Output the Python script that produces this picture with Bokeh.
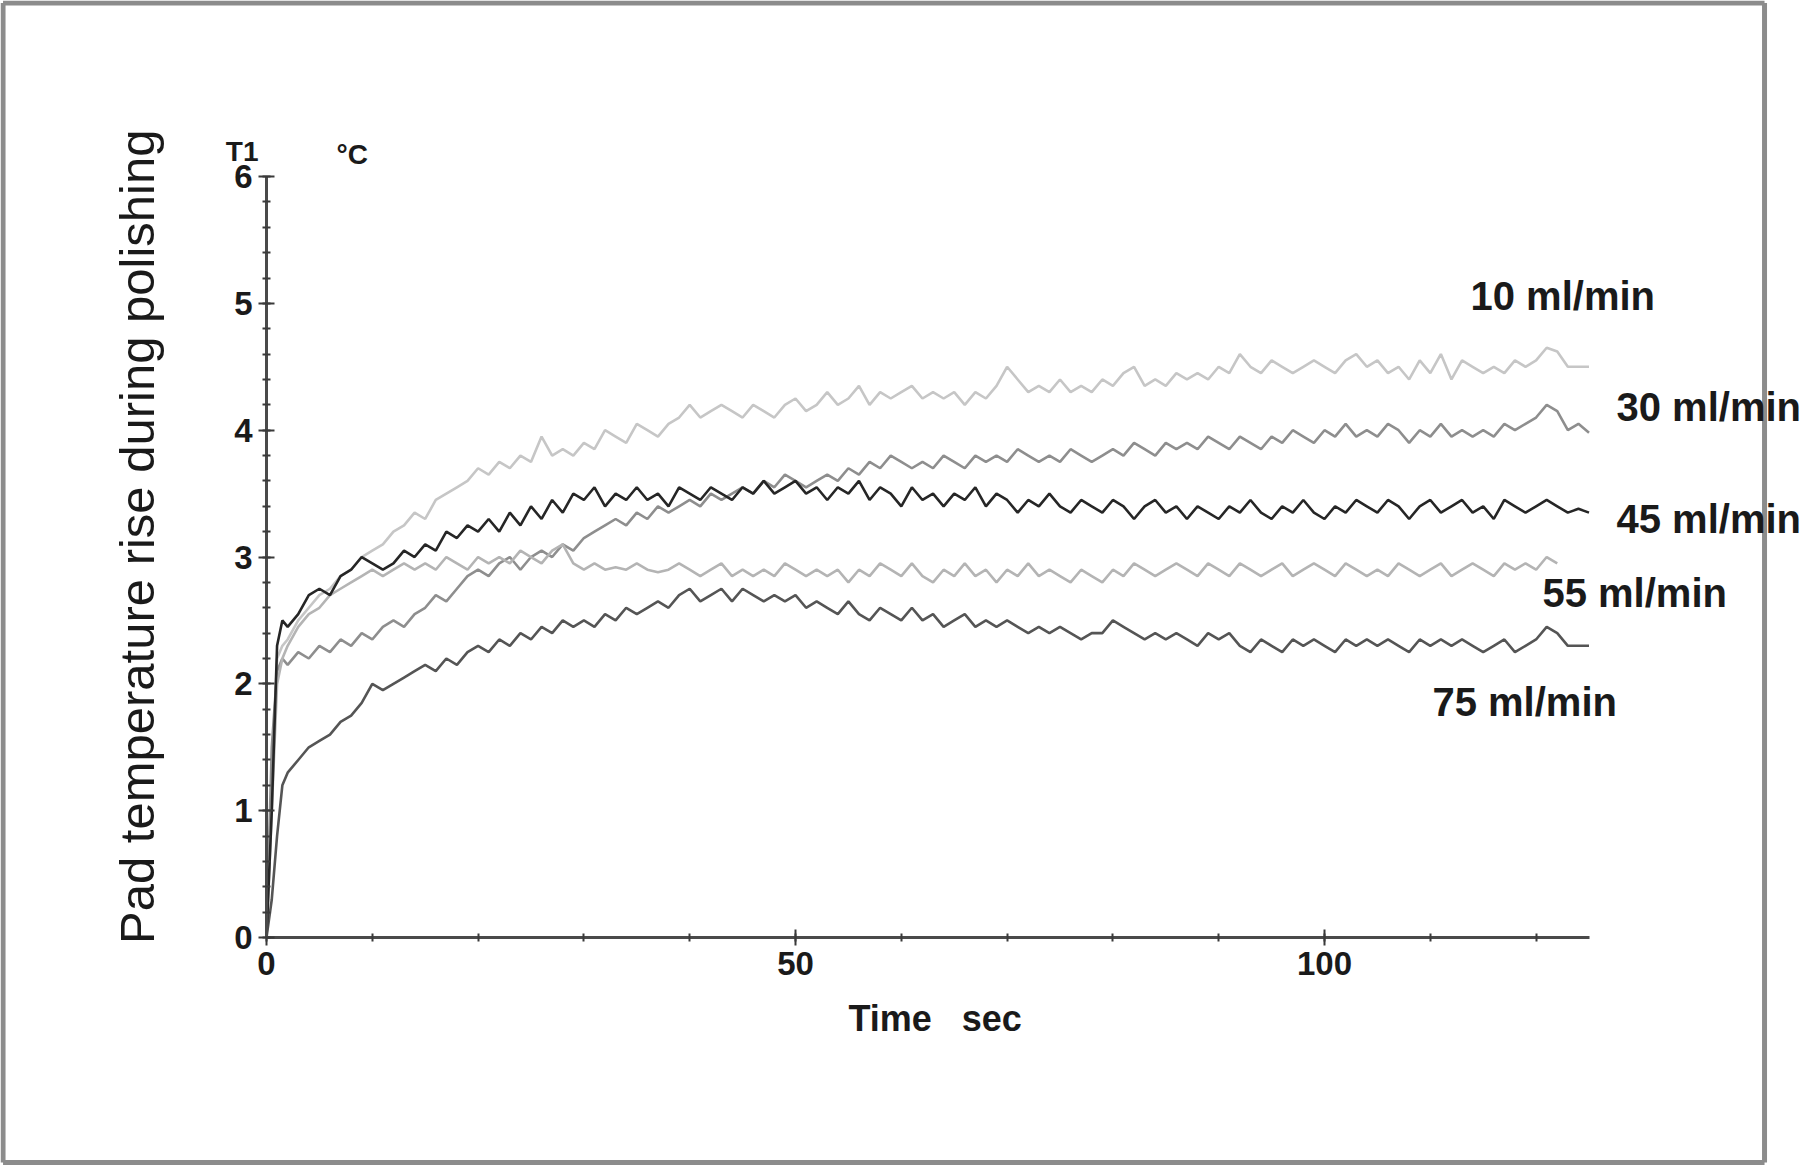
from bokeh.plotting import figure
from bokeh.models import Range1d, SingleIntervalTicker
from bokeh.core.properties import value
from bokeh.embed import file_html
from bokeh.resources import INLINE
import math

# ---------------- data ----------------
TIME = [0, 0.5, 1, 1.5] + list(range(2, 126))
TIME_55 = TIME[:125]          # 55 ml/min trace stops at ~122 s

S10 = [0, 1.2, 2.2, 2.3,
       2.35, 2.5, 2.6, 2.7, 2.75, 2.85, 2.9, 3.0, 3.05,
       3.1, 3.2, 3.25, 3.35, 3.3, 3.45, 3.5, 3.55, 3.6, 3.7,
       3.65, 3.75, 3.7, 3.8, 3.75, 3.95, 3.8, 3.85, 3.8, 3.9,
       3.85, 4.0, 3.95, 3.9, 4.05, 4.0, 3.95, 4.05, 4.1, 4.2,
       4.1, 4.15, 4.2, 4.15, 4.1, 4.2, 4.15, 4.1, 4.2, 4.25,
       4.15, 4.2, 4.3, 4.2, 4.25, 4.35, 4.2, 4.3, 4.25, 4.3,
       4.35, 4.25, 4.3, 4.25, 4.3, 4.2, 4.3, 4.25, 4.35, 4.5,
       4.4, 4.3, 4.35, 4.3, 4.4, 4.3, 4.35, 4.3, 4.4, 4.35,
       4.45, 4.5, 4.35, 4.4, 4.35, 4.45, 4.4, 4.45, 4.4, 4.5,
       4.45, 4.6, 4.5, 4.45, 4.55, 4.5, 4.45, 4.5, 4.55, 4.5,
       4.45, 4.55, 4.6, 4.5, 4.55, 4.45, 4.5, 4.4, 4.55, 4.45,
       4.6, 4.4, 4.55, 4.5, 4.45, 4.5, 4.45, 4.55, 4.5, 4.55,
       4.65, 4.62, 4.5, 4.5, 4.5]

S30 = [0, 1.5, 2.1, 2.2,
       2.15, 2.25, 2.2, 2.3, 2.25, 2.35, 2.3, 2.4, 2.35,
       2.45, 2.5, 2.45, 2.55, 2.6, 2.7, 2.65, 2.75, 2.85, 2.9,
       2.85, 2.95, 3.0, 2.9, 3.0, 3.05, 3.0, 3.1, 3.05, 3.15,
       3.2, 3.25, 3.3, 3.25, 3.35, 3.3, 3.4, 3.35, 3.4, 3.45,
       3.4, 3.5, 3.45, 3.5, 3.55, 3.5, 3.6, 3.55, 3.65, 3.6,
       3.55, 3.6, 3.65, 3.6, 3.7, 3.65, 3.75, 3.7, 3.8, 3.75,
       3.7, 3.75, 3.7, 3.8, 3.75, 3.7, 3.8, 3.75, 3.8, 3.75,
       3.85, 3.8, 3.75, 3.8, 3.75, 3.85, 3.8, 3.75, 3.8, 3.85,
       3.8, 3.9, 3.85, 3.8, 3.9, 3.85, 3.9, 3.85, 3.95, 3.9,
       3.85, 3.95, 3.9, 3.85, 3.95, 3.9, 4.0, 3.95, 3.9, 4.0,
       3.95, 4.05, 3.95, 4.0, 3.95, 4.05, 4.0, 3.9, 4.0, 3.95,
       4.05, 3.95, 4.0, 3.95, 4.0, 3.95, 4.05, 4.0, 4.05, 4.1,
       4.2, 4.15, 4.0, 4.05, 3.98]

S45 = [0, 1.0, 2.3, 2.5,
       2.45, 2.55, 2.7, 2.75, 2.7, 2.85, 2.9, 3.0, 2.95,
       2.9, 2.95, 3.05, 3.0, 3.1, 3.05, 3.2, 3.15, 3.25, 3.2,
       3.3, 3.2, 3.35, 3.25, 3.4, 3.3, 3.45, 3.35, 3.5, 3.45,
       3.55, 3.4, 3.5, 3.45, 3.55, 3.45, 3.5, 3.4, 3.55, 3.5,
       3.45, 3.55, 3.5, 3.45, 3.55, 3.5, 3.6, 3.5, 3.55, 3.6,
       3.5, 3.55, 3.45, 3.55, 3.5, 3.6, 3.45, 3.55, 3.5, 3.4,
       3.55, 3.45, 3.5, 3.4, 3.5, 3.45, 3.55, 3.4, 3.5, 3.45,
       3.35, 3.45, 3.4, 3.5, 3.4, 3.35, 3.45, 3.4, 3.35, 3.45,
       3.4, 3.3, 3.4, 3.45, 3.35, 3.4, 3.3, 3.4, 3.35, 3.3,
       3.4, 3.35, 3.45, 3.35, 3.3, 3.4, 3.35, 3.45, 3.35, 3.3,
       3.4, 3.35, 3.45, 3.4, 3.35, 3.45, 3.4, 3.3, 3.4, 3.45,
       3.35, 3.4, 3.45, 3.35, 3.4, 3.3, 3.45, 3.4, 3.35, 3.4,
       3.45, 3.4, 3.35, 3.38, 3.35]

S55 = [0, 1.0, 2.0, 2.2,
       2.3, 2.45, 2.55, 2.6, 2.7, 2.75, 2.8, 2.85, 2.9,
       2.85, 2.9, 2.95, 2.9, 2.95, 2.9, 3.0, 2.95, 2.9, 3.0,
       2.95, 3.0, 2.95, 3.05, 3.0, 2.95, 3.05, 3.1, 2.95, 2.9,
       2.95, 2.9, 2.92, 2.9, 2.95, 2.9, 2.88, 2.9, 2.95, 2.9,
       2.85, 2.9, 2.95, 2.85, 2.9, 2.85, 2.9, 2.85, 2.95, 2.9,
       2.85, 2.9, 2.85, 2.9, 2.8, 2.9, 2.85, 2.95, 2.9, 2.85,
       2.95, 2.85, 2.8, 2.9, 2.85, 2.95, 2.85, 2.9, 2.8, 2.9,
       2.85, 2.95, 2.85, 2.9, 2.85, 2.8, 2.9, 2.85, 2.8, 2.9,
       2.85, 2.95, 2.9, 2.85, 2.9, 2.95, 2.9, 2.85, 2.95, 2.9,
       2.85, 2.95, 2.9, 2.85, 2.9, 2.95, 2.85, 2.9, 2.95, 2.9,
       2.85, 2.95, 2.9, 2.85, 2.9, 2.85, 2.95, 2.9, 2.85, 2.9,
       2.95, 2.85, 2.9, 2.95, 2.9, 2.85, 2.95, 2.9, 2.95, 2.9,
       3.0, 2.95]

S75 = [0, 0.3, 0.8, 1.2,
       1.3, 1.4, 1.5, 1.55, 1.6, 1.7, 1.75, 1.85, 2.0,
       1.95, 2.0, 2.05, 2.1, 2.15, 2.1, 2.2, 2.15, 2.25, 2.3,
       2.25, 2.35, 2.3, 2.4, 2.35, 2.45, 2.4, 2.5, 2.45, 2.5,
       2.45, 2.55, 2.5, 2.6, 2.55, 2.6, 2.65, 2.6, 2.7, 2.75,
       2.65, 2.7, 2.75, 2.65, 2.75, 2.7, 2.65, 2.7, 2.65, 2.7,
       2.6, 2.65, 2.6, 2.55, 2.65, 2.55, 2.5, 2.6, 2.55, 2.5,
       2.6, 2.5, 2.55, 2.45, 2.5, 2.55, 2.45, 2.5, 2.45, 2.5,
       2.45, 2.4, 2.45, 2.4, 2.45, 2.4, 2.35, 2.4, 2.4, 2.5,
       2.45, 2.4, 2.35, 2.4, 2.35, 2.4, 2.35, 2.3, 2.4, 2.35,
       2.4, 2.3, 2.25, 2.35, 2.3, 2.25, 2.35, 2.3, 2.35, 2.3,
       2.25, 2.35, 2.3, 2.35, 2.3, 2.35, 2.3, 2.25, 2.35, 2.3,
       2.35, 2.3, 2.35, 2.3, 2.25, 2.3, 2.35, 2.25, 2.3, 2.35,
       2.45, 2.4, 2.3, 2.3, 2.3]

SERIES_NAMES = ["10 ml/min", "30 ml/min", "45 ml/min", "55 ml/min", "75 ml/min"]
LABEL_X = [113.8, 127.6, 127.6, 120.6, 110.2]
LABEL_Y = [5.06, 4.18, 3.30, 2.72, 1.86]

X_TICK_STEP = 50
Y_TICK_STEP = 1
X_LABEL = "Time\u00a0\u00a0\u00a0sec"
Y_LABEL = "Pad temperature rise during polishing"
Y_UNIT_NAME = "T1"
Y_UNIT = "°C"

# ---------------- figure ----------------
FONT = "Liberation Sans"
W, H = 1800, 1168
X0, X1 = -25.14, 144.99
Y0, Y1 = -1.821, 7.388

p = figure(width=W, height=H, output_backend="svg", toolbar_location=None,
           x_range=Range1d(X0, X1), y_range=Range1d(Y0, Y1),
           min_border_left=0, min_border_bottom=0,
           min_border_top=0, min_border_right=0)
p.title.visible = False
p.xgrid.visible = False
p.ygrid.visible = False
p.outline_line_color = None
p.background_fill_color = "white"
p.border_fill_color = "white"

for ax in (p.xaxis[0], p.yaxis[0]):
    ax.fixed_location = 0
    ax.axis_line_color = "#4a4a4a"
    ax.axis_line_width = 3
    ax.major_tick_line_color = "#3a3a3a"
    ax.major_tick_line_width = 2
    ax.minor_tick_line_color = "#3a3a3a"
    ax.minor_tick_line_width = 2
    ax.major_tick_in = 8
    ax.major_tick_out = 8
    ax.minor_tick_in = 4
    ax.minor_tick_out = 4
    ax.major_label_text_font = FONT
    ax.major_label_text_font_style = "bold"
    ax.major_label_text_font_size = "33px"
    ax.major_label_text_color = "#1a1a1a"
    ax.major_label_standoff = 6

p.xaxis[0].ticker = SingleIntervalTicker(interval=X_TICK_STEP, num_minor_ticks=5)
p.yaxis[0].ticker = SingleIntervalTicker(interval=Y_TICK_STEP, num_minor_ticks=5)
p.xaxis[0].bounds = (0, 125)
p.yaxis[0].bounds = (0, 6)

# picture frame (grey box around the whole chart): top, left, right, bottom edges
FL, FR = -24.90, 141.59
FT, FB = 7.368, -1.774
p.segment(x0=[FL, FL, FR, FL], y0=[FT, FB, FT, FB],
          x1=[FR, FL, FR, FR], y1=[FT, FT, FB, FB],
          line_color="#8c8c8c", line_width=5)

# ---------------- lines ----------------
specs = [
    (TIME, S10, "#c6c6c6"),
    (TIME, S30, "#8e8e8e"),
    (TIME_55, S55, "#b4b4b4"),
    (TIME, S75, "#555555"),
    (TIME, S45, "#262626"),
]
for xs, ys, col in specs:
    p.line(xs, ys, line_color=col, line_width=2.6)

# series labels
p.text(x=LABEL_X, y=LABEL_Y, text=SERIES_NAMES,
       text_font=value(FONT), text_font_style="bold", text_font_size="40px",
       text_align="left", text_baseline="middle", text_color="#1a1a1a")

# axis captions
p.text(x=[63.2], y=[-0.639], text=[X_LABEL], text_font=value(FONT),
       text_font_style="bold", text_font_size="36px",
       text_align="center", text_baseline="middle", text_color="#1a1a1a")
p.text(x=[-12.2], y=[3.16], text=[Y_LABEL], text_font=value(FONT),
       text_font_size="49px", angle=math.pi / 2,
       text_align="center", text_baseline="middle", text_color="#1a1a1a")
p.text(x=[-2.3, 8.1], y=[6.2, 6.17], text=[Y_UNIT_NAME, Y_UNIT], text_font=value(FONT),
       text_font_style="bold", text_font_size="28px",
       text_align="center", text_baseline="middle", text_color="#1a1a1a")

open("out.html", "w").write(file_html(p, INLINE))
